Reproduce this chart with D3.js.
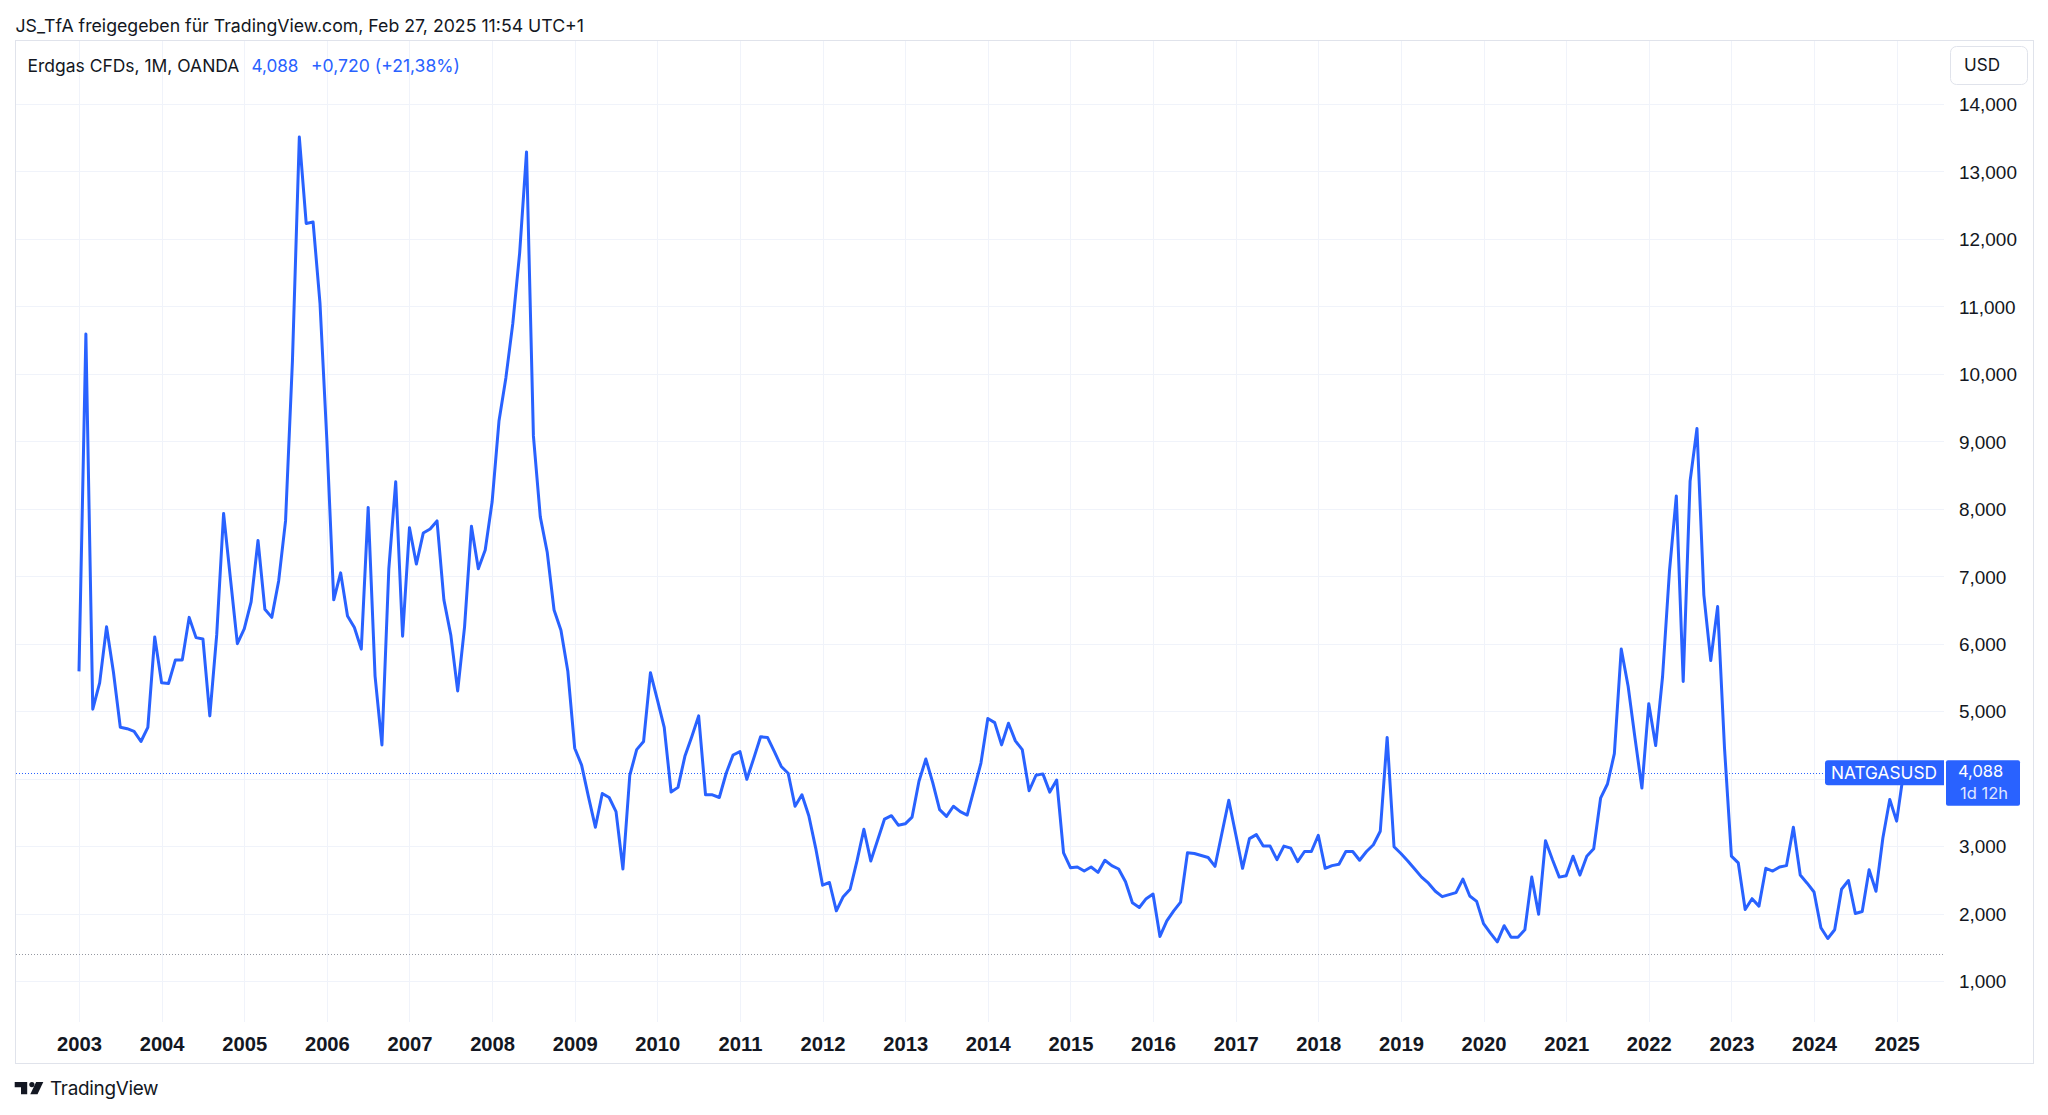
<!DOCTYPE html>
<html>
<head>
<meta charset="utf-8">
<script src="https://cdn.jsdelivr.net/npm/d3@7/dist/d3.min.js"></script>
<style>
  body { margin: 0; background: #fff; }
  svg { display: block; font-family: Inter, "Noto Sans", sans-serif; }
</style>
</head>
<body>
<svg id="svg" width="2048" height="1115"></svg>
<script>
const yearLabels = ["2003", "2004", "2005", "2006", "2007", "2008", "2009", "2010", "2011", "2012", "2013", "2014",
    "2015", "2016", "2017", "2018", "2019", "2020", "2021", "2022", "2023", "2024", "2025"];

const priceTicks = [1, 2, 3, 4, 5, 6, 7, 8, 9, 10, 11, 12, 13, 14];

// monthly closes Jan 2003 .. Feb 2025, one row per year
const closes = [
    5.59, 10.59, 5.03, 5.42, 6.25, 5.58, 4.76, 4.74, 4.70, 4.55, 4.76, 6.10,
    5.42, 5.41, 5.76, 5.76, 6.39, 6.09, 6.07, 4.93, 6.13, 7.93, 6.96, 6.00,
    6.22, 6.62, 7.53, 6.51, 6.39, 6.93, 7.82, 10.19, 13.51, 12.23, 12.25, 11.05,
    9.02, 6.65, 7.05, 6.41, 6.24, 5.92, 8.02, 5.52, 4.50, 7.11, 8.40, 6.11,
    7.72, 7.18, 7.64, 7.70, 7.82, 6.65, 6.13, 5.30, 6.25, 7.74, 7.11, 7.39,
    8.10, 9.30, 9.94, 10.74, 11.79, 13.29, 9.08, 7.88, 7.36, 6.50, 6.20, 5.59,
    4.45, 4.20, 3.73, 3.28, 3.78, 3.72, 3.51, 2.66, 4.05, 4.43, 4.55, 5.57,
    5.17, 4.76, 3.80, 3.87, 4.33, 4.62, 4.93, 3.76, 3.76, 3.72, 4.08, 4.35,
    4.40, 3.99, 4.30, 4.62, 4.61, 4.40, 4.18, 4.08, 3.59, 3.76, 3.45, 2.97,
    2.42, 2.46, 2.04, 2.25, 2.36, 2.78, 3.25, 2.78, 3.09, 3.40, 3.45, 3.31,
    3.33, 3.43, 3.96, 4.29, 3.94, 3.54, 3.44, 3.59, 3.51, 3.46, 3.84, 4.23,
    4.89, 4.83, 4.50, 4.82, 4.56, 4.43, 3.82, 4.05, 4.07, 3.80, 3.98, 2.90,
    2.68, 2.69, 2.63, 2.69, 2.61, 2.79, 2.71, 2.66, 2.47, 2.16, 2.09, 2.22,
    2.29, 1.66, 1.89, 2.04, 2.17, 2.90, 2.89, 2.86, 2.83, 2.70, 3.19, 3.68,
    3.18, 2.67, 3.11, 3.17, 3.00, 3.00, 2.80, 3.00, 2.97, 2.77, 2.92, 2.92,
    3.16, 2.67, 2.71, 2.73, 2.92, 2.92, 2.79, 2.92, 3.02, 3.22, 4.61, 2.99,
    2.89, 2.78, 2.66, 2.54, 2.45, 2.33, 2.25, 2.28, 2.31, 2.51, 2.26, 2.18,
    1.85, 1.71, 1.58, 1.82, 1.65, 1.65, 1.76, 2.54, 1.99, 3.08, 2.80, 2.54,
    2.56, 2.85, 2.57, 2.85, 2.96, 3.71, 3.92, 4.37, 5.92, 5.37, 4.60, 3.86,
    5.11, 4.49, 5.51, 7.07, 8.19, 5.44, 8.41, 9.19, 6.72, 5.75, 6.55, 4.45,
    2.85, 2.75, 2.06, 2.22, 2.11, 2.67, 2.63, 2.69, 2.71, 3.28, 2.57, 2.45,
    2.32, 1.79, 1.63, 1.76, 2.36, 2.49, 2.00, 2.03, 2.65, 2.33, 3.12, 3.69,
    3.37, 4.088
];

const lastClose = 4.088;
const lowLevel = 1.405;
const title = "JS_TfA freigegeben für TradingView.com, Feb 27, 2025 11:54 UTC+1";
const legendName = "Erdgas CFDs, 1M, OANDA";
const legendValue = "4,088";
const legendChange = "+0,720 (+21,38%)";
const symbol = "NATGASUSD";
const countdown = "1d 12h";

const blue = "#2962ff",
    ink = "#131722",
    grid = "#f0f3fa",
    border = "#e0e3eb";

var svg = d3.select("#svg"),
    frame = { left: 15, top: 40, right: 2033, bottom: 1063 },
    plotRight = 1944,
    plotBottom = 1022,
    monthStep = 82.62 / 12;

// german style numbers: 4.088 -> "4,088"
const fmt = v => d3.format(".3f")(v).replace(".", ",");

var x = d3.scaleLinear()
    .domain([0, closes.length - 1])
    .range([79, 79 + (closes.length - 1) * monthStep]);
var y = d3.scaleLinear().domain([1, 14]).range([981, 104]);
var ly = y(lastClose);

// font size that makes text t about w px wide
function fit(t, w) {
    var l = t.node().getComputedTextLength();
    var fs = parseFloat(t.attr("font-size"));
    t.attr("font-size", (fs * w / l).toFixed(2));
    return t;
}

// frame
svg.append("rect")
    .attr("x", frame.left + 0.5).attr("y", frame.top + 0.5)
    .attr("width", frame.right - frame.left).attr("height", frame.bottom - frame.top)
    .attr("fill", "#fff").attr("stroke", border);

// grid
var yearIdx = yearLabels.map((d, i) => i * 12);
svg.append("g").selectAll("line").data(yearIdx).join("line")
    .attr("x1", d => Math.round(x(d)) + 0.5).attr("x2", d => Math.round(x(d)) + 0.5)
    .attr("y1", frame.top + 1).attr("y2", plotBottom)
    .attr("stroke", grid);
svg.append("g").selectAll("line").data(priceTicks).join("line")
    .attr("x1", frame.left + 1).attr("x2", plotRight)
    .attr("y1", d => Math.round(y(d)) + 0.5).attr("y2", d => Math.round(y(d)) + 0.5)
    .attr("stroke", grid);

// horizontal marker lines
svg.append("line")
    .attr("x1", frame.left + 1).attr("x2", plotRight)
    .attr("y1", Math.round(y(lowLevel)) + 0.5).attr("y2", Math.round(y(lowLevel)) + 0.5)
    .attr("stroke", "#9598a1").attr("stroke-dasharray", "1,2");
svg.append("line")
    .attr("x1", frame.left + 1).attr("x2", 1825)
    .attr("y1", Math.round(ly) + 0.5).attr("y2", Math.round(ly) + 0.5)
    .attr("stroke", blue).attr("stroke-dasharray", "1,2");

// price line
var line = d3.line()
    .x((d, i) => x(i))
    .y(d => y(d));

svg.append("path")
    .datum(closes)
    .attr("d", line)
    .attr("fill", "none")
    .attr("stroke", blue)
    .attr("stroke-width", 3)
    .attr("stroke-linejoin", "round");

// axes
var yAxis = d3.axisRight(y).tickValues(priceTicks).tickFormat(fmt).tickSize(0).tickPadding(0);
var gy = svg.append("g")
    .attr("transform", "translate(1959,0)")
    .call(yAxis);
gy.select(".domain").remove();
var yText = gy.selectAll("text")
    .attr("font-size", 17).attr("fill", ink).attr("font-family", null)
    .attr("dy", "0.36em");
var yFs = fit(gy.select(".tick:last-of-type text"), 58).attr("font-size");
yText.attr("font-size", yFs);
// the label hidden behind the last price box is not shown
gy.selectAll(".tick").filter(d => Math.abs(y(d) - ly) < 30).remove();

var xAxis = d3.axisBottom(x).tickValues(yearIdx).tickFormat((d, i) => yearLabels[i]).tickSize(0);
var gx = svg.append("g")
    .attr("transform", "translate(0,1044)")
    .call(xAxis);
gx.select(".domain").remove();
var xText = gx.selectAll("text")
    .attr("y", 0).attr("dy", "0.36em")
    .attr("font-size", 17.5).attr("font-weight", 600).attr("fill", ink).attr("font-family", null);
var xFs = fit(gx.select(".tick text"), 45).attr("font-size");
xText.attr("font-size", xFs);

// USD box
svg.append("rect")
    .attr("x", 1950.5).attr("y", 46.5).attr("width", 77).attr("height", 38).attr("rx", 6)
    .attr("fill", "#fff").attr("stroke", border);
fit(svg.append("text")
    .attr("x", 1964).attr("y", 65).attr("dy", "0.36em")
    .attr("font-size", 17).attr("fill", ink)
    .text("USD"), 36);

// last price labels
svg.append("path")
    .attr("d", `M1825,${ly - 12.5 + 3} q0,-3 3,-3 H1944 V${ly + 12.5} H1828 q-3,0 -3,-3 Z`)
    .attr("fill", blue);
fit(svg.append("text")
    .attr("x", 1831).attr("y", ly).attr("dy", "0.36em")
    .attr("font-size", 17).attr("fill", "#fff")
    .text(symbol), 106);
svg.append("rect")
    .attr("x", 1946).attr("y", ly - 12.5).attr("width", 74).attr("height", 45.5).attr("rx", 2)
    .attr("fill", blue);
svg.append("text")
    .attr("x", 1958).attr("y", ly - 2).attr("dy", "0.36em")
    .attr("font-size", 16.5).attr("fill", "#fff")
    .text(fmt(lastClose));
svg.append("text")
    .attr("x", 1960).attr("y", ly + 20).attr("dy", "0.36em")
    .attr("font-size", 16.5).attr("fill", "#fff").attr("opacity", 0.85)
    .text(countdown);

// header
fit(svg.append("text")
    .attr("x", 15.5).attr("y", 26).attr("dy", "0.36em")
    .attr("font-size", 17).attr("fill", ink)
    .text(title), 569);

fit(svg.append("text")
    .attr("x", 27.5).attr("y", 66).attr("dy", "0.36em")
    .attr("font-size", 17).attr("fill", ink)
    .text(legendName), 212);
fit(svg.append("text")
    .attr("x", 251.5).attr("y", 66).attr("dy", "0.36em")
    .attr("font-size", 17).attr("fill", blue)
    .text(legendValue), 47);
fit(svg.append("text")
    .attr("x", 311).attr("y", 66).attr("dy", "0.36em")
    .attr("font-size", 17).attr("fill", blue)
    .text(legendChange), 149);

// TradingView logo
var logo = svg.append("g").attr("transform", "translate(14.7,1082)").attr("fill", ink);
logo.append("path").attr("d", "M0,0 H12.5 V12.3 H6.3 V5.2 H0 Z");
logo.append("circle").attr("cx", 17.2).attr("cy", 2.6).attr("r", 2.6);
logo.append("path").attr("d", "M15.6,12.3 L21.4,0 H28.6 L22.8,12.3 Z");
fit(svg.append("text")
    .attr("x", 50).attr("y", 1088).attr("dy", "0.36em")
    .attr("font-size", 17).attr("fill", ink).attr("letter-spacing", -0.3)
    .text("TradingView"), 108);
</script>
</body>
</html>
